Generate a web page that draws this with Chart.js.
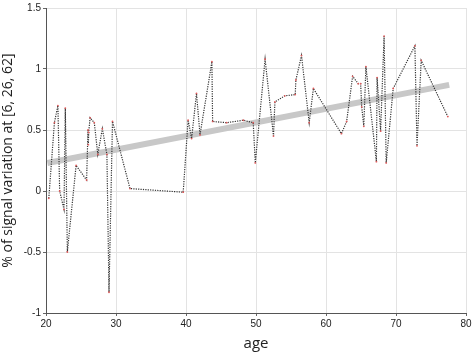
<!DOCTYPE html>
<html>
<head>
<meta charset="utf-8">
<script src="https://cdn.jsdelivr.net/npm/chart.js@4"></script>
<style>
html,body{margin:0;padding:0;background:#fff;}
#wrap{width:474px;height:353px;position:relative;}
</style>
</head>
<body>
<div id="wrap"><canvas id="c" width="474" height="353"></canvas></div>
<script>
const ages = [20.4, 21.2, 21.7, 21.95, 22.57, 22.76, 23.05, 24.3, 25.8, 26.0, 26.05, 26.1, 26.3, 26.9, 27.4, 28.05, 28.7, 29.0, 29.5, 32.0, 39.6, 40.3, 40.8, 41.5, 42.0, 43.7, 43.8, 45.8, 48.2, 49.6, 49.9, 51.3, 52.5, 52.7, 54.1, 55.6, 55.7, 56.5, 57.6, 58.2, 62.2, 62.95, 63.8, 64.6, 64.95, 65.1, 65.4, 65.7, 67.2, 67.3, 67.8, 68.3, 68.6, 69.6, 72.7, 73.0, 73.6, 77.4];
const signal = [-0.06, 0.56, 0.70, 0.0, -0.15, 0.68, -0.50, 0.21, 0.09, 0.50, 0.38, 0.48, 0.60, 0.56, 0.30, 0.51, 0.30, -0.83, 0.57, 0.02, -0.01, 0.58, 0.43, 0.80, 0.46, 1.06, 0.57, 0.56, 0.58, 0.56, 0.23, 1.08, 0.45, 0.73, 0.78, 0.79, 0.91, 1.11, 0.56, 0.84, 0.47, 0.57, 0.94, 0.88, 0.88, 0.69, 0.53, 1.02, 0.24, 0.93, 0.49, 1.27, 0.23, 0.84, 1.19, 0.37, 1.07, 0.61];
const trendAges = [20.2, 77.6];
const trendValues = [0.23, 0.87];
const xTicks = [20, 30, 40, 50, 60, 70, 80];
const yTicks = [-1, -0.5, 0, 0.5, 1, 1.5];

const dataPts = ages.map((a, i) => ({x: a, y: signal[i]}));
const trendPts = trendAges.map((a, i) => ({x: a, y: trendValues[i]}));

new Chart(document.getElementById('c'), {
  type: 'line',
  data: {
    datasets: [
      {
        data: dataPts,
        borderColor: '#333333',
        borderWidth: 1.2,
        borderDash: [1.2, 1.2],
        pointRadius: 0.9,
        pointBorderWidth: 0,
        pointBackgroundColor: '#e05a5a',
        tension: 0,
        order: 1
      },
      {
        data: trendPts,
        borderColor: '#c8c8c8',
        borderWidth: 6,
        pointRadius: 0,
        tension: 0,
        order: 2
      }
    ]
  },
  options: {
    responsive: false,
    animation: false,
    layout: {padding: {top: 5, right: 8, left: 0, bottom: 0}},
    plugins: {legend: {display: false}, tooltip: {enabled: false}},
    scales: {
      x: {
        type: 'linear',
        min: 20, max: 80,
        afterBuildTicks: s => { s.ticks = xTicks.map(v => ({value: v})); },
        afterFit: s => { s.height = 40; },
        grid: {color: '#e3e3e3', lineWidth: 1, tickLength: 3, drawTicks: true, tickColor: '#666'},
        border: {color: '#555', width: 1},
        ticks: {font: {family: 'Liberation Sans', size: 10}, color: '#222', padding: 2, maxRotation: 0, callback: v => String(v)},
        title: {display: true, text: 'age', font: {family: 'Open Sans', size: 15}, color: '#222', padding: {top: 0, bottom: 0}}
      },
      y: {
        type: 'linear',
        min: -1, max: 1.5,
        afterBuildTicks: s => { s.ticks = yTicks.map(v => ({value: v})); },
        afterFit: s => { s.width = 46; },
        grid: {color: '#e3e3e3', lineWidth: 1, tickLength: 3, tickColor: '#666'},
        border: {color: '#555', width: 1},
        ticks: {font: {family: 'Liberation Sans', size: 10}, color: '#222', padding: 2, callback: v => String(v)},
        title: {display: true, text: '% of signal variation at [6, 26, 62]', font: {family: 'Open Sans', size: 14}, color: '#222', padding: {top: 0, bottom: 0}}
      }
    }
  }
});
</script>
</body>
</html>
